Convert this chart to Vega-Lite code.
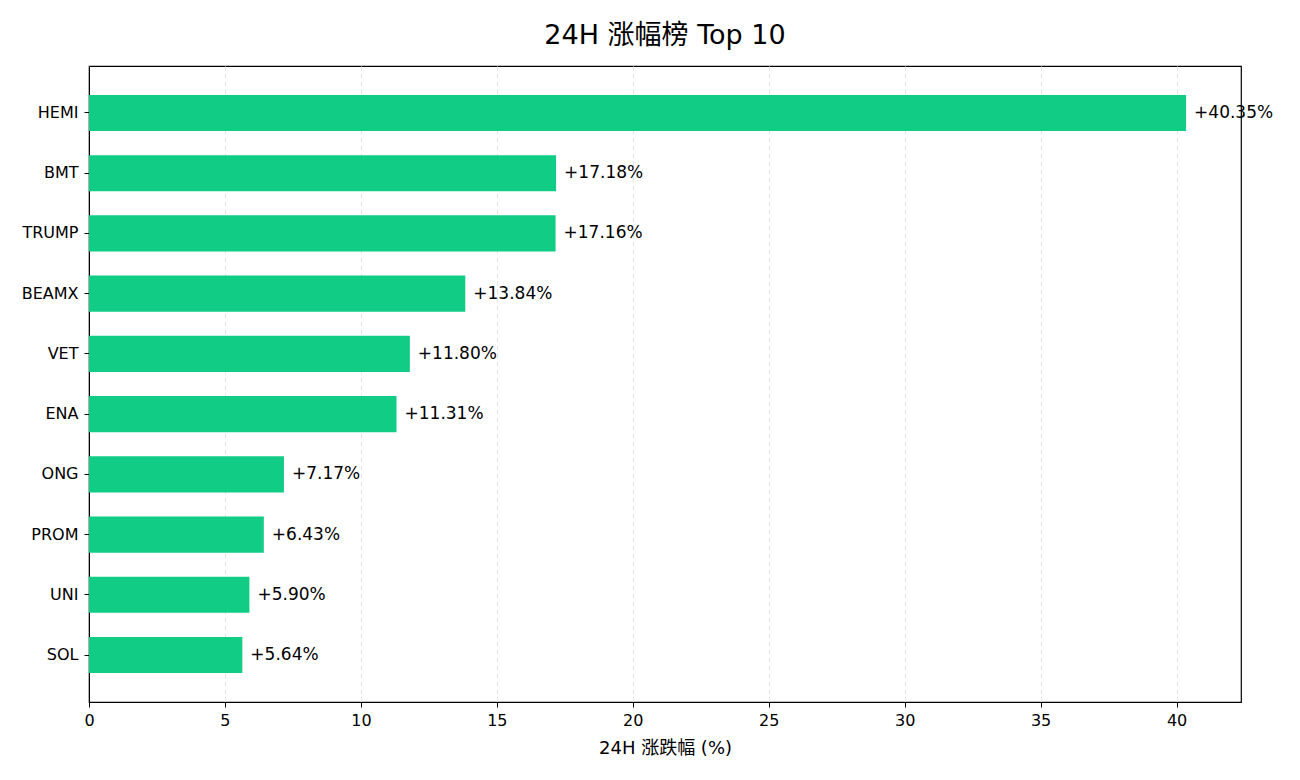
{
  "$schema": "https://vega.github.io/schema/vega-lite/v6.json",
  "width": 1152,
  "height": 636,
  "autosize": {"type": "none"},
  "padding": {"left": 89, "top": 66, "right": 59, "bottom": 78},
  "background": "white",
  "title": {
    "text": "24H 涨幅榜 Top 10",
    "font": "DejaVu Sans, Noto Sans CJK SC",
    "fontSize": 27,
    "fontWeight": "normal",
    "color": "#000000",
    "anchor": "middle",
    "frame": "group",
    "baseline": "bottom",
    "offset": -11
  },
  "data": {
    "values": [
      {"coin": "HEMI", "pct": 40.35, "label": "+40.35%"},
      {"coin": "BMT", "pct": 17.18, "label": "+17.18%"},
      {"coin": "TRUMP", "pct": 17.16, "label": "+17.16%"},
      {"coin": "BEAMX", "pct": 13.84, "label": "+13.84%"},
      {"coin": "VET", "pct": 11.80, "label": "+11.80%"},
      {"coin": "ENA", "pct": 11.31, "label": "+11.31%"},
      {"coin": "ONG", "pct": 7.17, "label": "+7.17%"},
      {"coin": "PROM", "pct": 6.43, "label": "+6.43%"},
      {"coin": "UNI", "pct": 5.90, "label": "+5.90%"},
      {"coin": "SOL", "pct": 5.64, "label": "+5.64%"}
    ]
  },
  "encoding": {
    "y": {
      "field": "coin",
      "type": "nominal",
      "sort": {"field": "pct", "order": "descending"},
      "scale": {"paddingInner": 0.4, "paddingOuter": 0.48},
      "axis": {
        "title": null,
        "labelFont": "DejaVu Sans",
        "labelFontSize": 16,
        "labelColor": "#000000",
        "labelPadding": 6,
        "tickSize": 5,
        "tickColor": "#000000",
        "domainColor": "#000000",
        "grid": false
      }
    },
    "x": {
      "field": "pct",
      "type": "quantitative",
      "scale": {"domain": [0, 42.37], "nice": false, "zero": true},
      "axis": {
        "title": "24H 涨跌幅 (%)",
        "titleFont": "DejaVu Sans, Noto Sans CJK SC",
        "titleFontSize": 18,
        "titleFontWeight": "normal",
        "titleColor": "#000000",
        "titlePadding": 11,
        "values": [0, 5, 10, 15, 20, 25, 30, 35, 40],
        "labelFont": "DejaVu Sans",
        "labelFontSize": 16,
        "labelColor": "#000000",
        "labelPadding": 5,
        "labelFlush": false,
        "tickSize": 5,
        "tickColor": "#000000",
        "domainColor": "#000000",
        "grid": true,
        "gridColor": "#e3e3e3",
        "gridDash": [5, 3],
        "gridWidth": 1
      }
    }
  },
  "layer": [
    {
      "mark": {"type": "bar", "color": "#11CC84"}
    },
    {
      "mark": {
        "type": "text",
        "align": "left",
        "baseline": "middle",
        "dx": 8,
        "font": "DejaVu Sans",
        "fontSize": 17,
        "color": "#000000"
      },
      "encoding": {"text": {"field": "label"}}
    }
  ],
  "config": {
    "view": {"stroke": "#000000", "strokeWidth": 1.2}
  }
}
